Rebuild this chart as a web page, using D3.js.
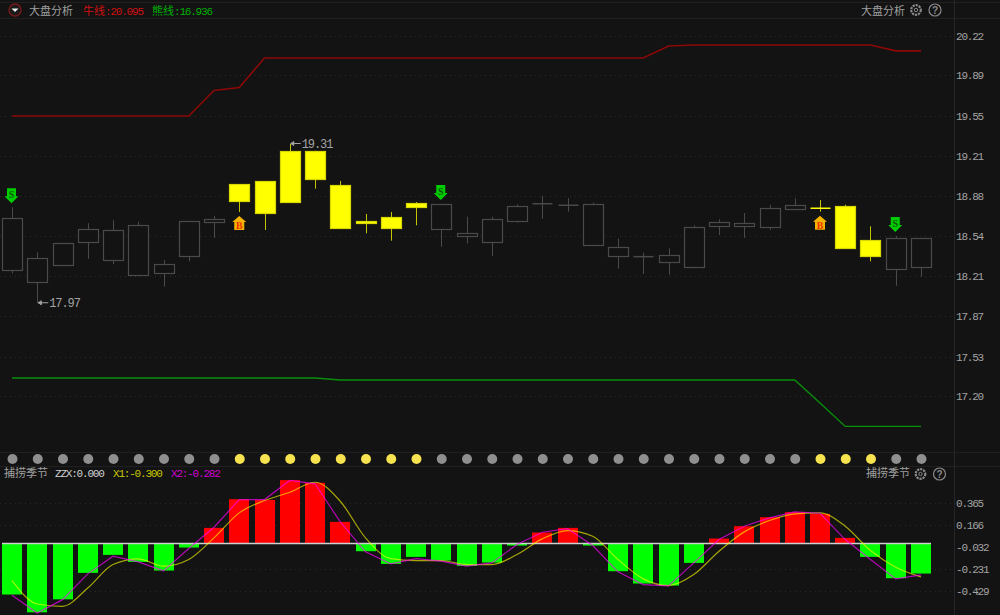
<!DOCTYPE html>
<html><head><meta charset="utf-8">
<script src="https://cdn.jsdelivr.net/npm/d3@7"></script>
<style>html,body{margin:0;padding:0;background:#131313;overflow:hidden}svg{display:block}</style>
</head><body><svg id="c" width="1000" height="615"></svg>
<script>
const highs=[18.783,18.405,18.483,18.649,18.676,18.662,18.341,18.668,18.712,18.978,19.001,19.314,19.258,19.004,18.727,18.744,18.827,18.811,18.704,18.704,18.808,18.878,18.861,18.822,18.520,18.402,18.439,18.632,18.682,18.735,18.805,18.858,18.844,18.805,18.624,18.542,18.523];
const lows=[18.229,17.978,18.293,18.352,18.305,18.209,18.117,18.330,18.528,18.744,18.593,18.830,18.939,18.609,18.565,18.503,18.632,18.452,18.481,18.374,18.654,18.687,18.746,18.467,18.268,18.223,18.218,18.274,18.551,18.528,18.593,18.758,18.746,18.444,18.330,18.125,18.201];
const bodyTops=[18.691,18.358,18.483,18.598,18.593,18.637,18.310,18.668,18.682,18.978,19.001,19.258,19.258,18.970,18.668,18.704,18.819,18.811,18.570,18.682,18.794,18.813,18.800,18.811,18.447,18.369,18.380,18.620,18.662,18.654,18.780,18.802,18.775,18.796,18.509,18.523,18.523];
const bodyBottoms=[18.257,18.156,18.301,18.489,18.341,18.218,18.234,18.374,18.657,18.838,18.733,18.830,19.026,18.612,18.649,18.612,18.783,18.598,18.545,18.489,18.671,18.813,18.800,18.467,18.369,18.369,18.318,18.285,18.629,18.629,18.618,18.769,18.775,18.444,18.374,18.263,18.276];
const yellowDays=[9,10,11,12,13,14,15,16,32,33,34];
const sellDays=[0,17,35];
const buyDays=[9,32];
const bullLine=[19.549,19.549,19.549,19.549,19.549,19.549,19.549,19.549,19.763,19.788,20.035,20.035,20.035,20.035,20.035,20.035,20.035,20.035,20.035,20.035,20.035,20.035,20.035,20.035,20.035,20.035,20.136,20.145,20.145,20.145,20.145,20.145,20.145,20.145,20.145,20.095,20.095];
const bearLine=[17.351,17.351,17.351,17.351,17.351,17.351,17.351,17.351,17.351,17.351,17.351,17.351,17.351,17.334,17.334,17.334,17.334,17.334,17.334,17.334,17.334,17.334,17.334,17.334,17.334,17.334,17.334,17.334,17.334,17.334,17.334,17.334,17.141,16.945,16.945,16.945,16.945];
const zzxBars=[-0.459,-0.619,-0.502,-0.264,-0.102,-0.165,-0.243,-0.036,0.141,0.399,0.393,0.571,0.547,0.195,-0.069,-0.183,-0.120,-0.153,-0.201,-0.171,-0.018,0.099,0.141,-0.018,-0.249,-0.360,-0.378,-0.174,0.045,0.156,0.237,0.282,0.267,0.051,-0.120,-0.312,-0.270];
const x1Line=[-0.333,-0.544,-0.565,-0.400,-0.189,-0.138,-0.204,-0.144,0.051,0.276,0.387,0.462,0.552,0.381,0.051,-0.135,-0.153,-0.153,-0.189,-0.189,-0.099,0.042,0.117,0.066,-0.144,-0.318,-0.378,-0.279,-0.069,0.105,0.207,0.267,0.276,0.156,-0.063,-0.213,-0.300];
const x2Line=[-0.465,-0.625,-0.505,-0.273,-0.114,-0.165,-0.246,-0.045,0.147,0.396,0.396,0.568,0.538,0.195,-0.075,-0.183,-0.135,-0.159,-0.204,-0.174,-0.009,0.102,0.135,-0.018,-0.255,-0.369,-0.381,-0.174,0.036,0.156,0.231,0.285,0.273,0.036,-0.144,-0.318,-0.282];
const priceTicks=[20.22,19.89,19.55,19.21,18.88,18.54,18.21,17.87,17.53,17.20];
const indTicks=[0.365,0.166,-0.032,-0.231,-0.429];
const panelName="大盘分析", indName="捕捞季节";
const bullText="牛线:20.095", bearText="熊线:16.936";
const zzxText="ZZX:0.000", x1Text="X1:-0.300", x2Text="X2:-0.282";
const hiLabel="19.31", loLabel="17.97";

const svg=d3.select("#c");
const mono="'Liberation Mono','DejaVu Sans Mono',monospace";
const cjk="'Noto Sans CJK SC',sans-serif";
const GRAY="#4a4a4a",YEL="#ffff00",TXT="#a3a3a3";
const days=d3.range(highs.length);
const x=d3.scaleLinear().domain([0,36]).range([12,921]);
const y=d3.scaleLinear().domain([20.22,17.20]).range([36,396]);
const yi=d3.scaleLinear().domain([0.365,-0.429]).range([503,591.2]);
const isY=i=>yellowDays.includes(i);
const bw=20;

svg.append("rect").attr("width",1000).attr("height",615).attr("fill","#131313");
[[0,1000,2.5],[0,1000,18.5],[0,1000,452.5],[0,1000,466.5]].forEach(d=>svg.append("line").attr("x1",d[0]).attr("x2",d[1]).attr("y1",d[2]).attr("y2",d[2]).attr("stroke","#202020"));
svg.append("line").attr("x1",954.5).attr("x2",954.5).attr("y1",0).attr("y2",615).attr("stroke","#262626");

const dash="1 4";
svg.append("g").selectAll("line").data(priceTicks).join("line").attr("x1",0).attr("x2",954)
 .attr("y1",d=>Math.round(y(d))+.5).attr("y2",d=>Math.round(y(d))+.5).attr("stroke","#2a2a2a").attr("stroke-dasharray",dash);
svg.append("g").selectAll("line").data(indTicks.filter(d=>d!==-0.032)).join("line").attr("x1",0).attr("x2",954)
 .attr("y1",d=>Math.round(yi(d))+.5).attr("y2",d=>Math.round(yi(d))+.5).attr("stroke","#2a2a2a").attr("stroke-dasharray",dash);

function styleAxis(g){g.select(".domain").remove();g.selectAll("line").remove();
 g.selectAll("text").attr("fill",TXT).attr("font-family",mono).attr("font-size",11).attr("letter-spacing","-1.2px").attr("x",0).attr("text-anchor","start");}
svg.append("g").attr("transform","translate(956,0)")
 .call(d3.axisRight(y).tickValues(priceTicks).tickFormat(d3.format(".2f")).tickSize(0)).call(styleAxis);
svg.append("g").attr("transform","translate(956,0)")
 .call(d3.axisRight(yi).tickValues(indTicks).tickFormat(d=>d3.format(".3f")(d).replace("−","-")).tickSize(0)).call(styleAxis);

const ln=d3.line().x((d,i)=>x(i)).y(d=>y(d));
svg.append("path").attr("d",ln(bullLine)).attr("fill","none").attr("stroke","#8c0808").attr("stroke-width",1.6);
svg.append("path").attr("d",ln(bearLine)).attr("fill","none").attr("stroke","#0a8f0a").attr("stroke-width",1.4);

const cg=svg.append("g");
days.forEach(i=>{
 const cx=Math.round(x(i))+.5, c=isY(i);
 cg.append("line").attr("x1",cx).attr("x2",cx).attr("y1",y(highs[i])).attr("y2",y(lows[i])).attr("stroke",c?"#c4c400":GRAY).attr("stroke-width",1);
 const t=y(bodyTops[i]),b=y(bodyBottoms[i]);
 if(b-t<1){cg.append("line").attr("x1",cx-10).attr("x2",cx+10).attr("y1",t).attr("y2",t).attr("stroke",c?YEL:GRAY).attr("stroke-width",1.5);}
 else cg.append("rect").attr("x",cx-10).attr("width",bw).attr("y",Math.round(t)+.5).attr("height",Math.max(1,Math.round(b-t)))
   .attr("fill",c?YEL:"#131313").attr("stroke",c?"#d8d800":GRAY).attr("stroke-width",1.2);
});

const sg=svg.append("g"),bg=svg.append("g");
sellDays.forEach(i=>{
 const cx=x(i)-.5,t=y(highs[i])-4;
 sg.append("path").attr("d",`M${cx} ${t}l-7-7h2.5v-8h9v8h2.5z`).attr("fill","#00cc00");
 sg.append("text").attr("x",cx).attr("y",t-5).attr("text-anchor","middle").attr("font-family","'Liberation Serif',serif").attr("font-weight","bold").attr("font-size",10).attr("fill","#0a5a0a").text("S");
});
buyDays.forEach(i=>{
 const cx=x(i),t=y(lows[i])+4;
 bg.append("path").attr("d",`M${cx} ${t}l7 6h-2v8h-10v-8h-2z`).attr("fill","#f5b400");
 bg.append("text").attr("x",cx).attr("y",t+13).attr("text-anchor","middle").attr("font-family","'Liberation Serif',serif").attr("font-weight","bold").attr("font-size",10).attr("fill","#f03000").text("B");
});

function note(i,v,txt){
 const px=x(i)+1,py=y(v);
 svg.append("path").attr("d",`M${px} ${py-.5}h10M${px} ${py-.5}l3-2v4z`).attr("stroke",TXT).attr("fill",TXT).attr("stroke-width",1);
 svg.append("text").attr("x",px+11).attr("y",py+3.5).attr("font-family",mono).attr("font-size",12).attr("fill",TXT).attr("letter-spacing","-1.1px").text(txt);
}
note(1,17.978,loLabel); note(11,19.314,hiLabel);

svg.append("g").selectAll("circle").data(days).join("circle").attr("cx",i=>x(i)+.5).attr("cy",459).attr("r",5)
 .attr("fill",i=>isY(i)?"#f6e34f":"#8f8f8f");

const ibg=svg.append("g");
ibg.selectAll("rect").data(zzxBars).join("rect").attr("x",(d,i)=>Math.round(x(i))-10).attr("width",bw)
 .attr("y",d=>d>=0?yi(d):yi(0)).attr("height",d=>Math.abs(yi(d)-yi(0))).attr("fill",d=>d>=0?"#ff0000":"#00ff00");
svg.append("line").attr("x1",2).attr("x2",931).attr("y1",yi(0)).attr("y2",yi(0)).attr("stroke","#d0d0d0").attr("stroke-width",1.4);
svg.append("path").attr("d",d3.line().curve(d3.curveMonotoneX).x((d,i)=>x(i)).y(d=>yi(d))(x1Line)).attr("fill","none").attr("stroke","#ffff00").attr("stroke-opacity",.62).attr("stroke-width",1.2);
svg.append("path").attr("d",d3.line().x((d,i)=>x(i)).y(d=>yi(d))(x2Line)).attr("fill","none").attr("stroke","#ff00ff").attr("stroke-opacity",.68).attr("stroke-width",1.2);

function t(xp,yp,s,fill,fam,size,ls){return svg.append("text").attr("x",xp).attr("y",yp).attr("font-family",fam).attr("font-size",size).attr("fill",fill).attr("letter-spacing",ls||0).text(s);}
svg.append("circle").attr("cx",15).attr("cy",10).attr("r",6).attr("fill","#1a1a1a").attr("stroke","#7a1a1a").attr("stroke-width",1.3);
svg.append("path").attr("d","M11.5 8.5h7l-3.5 3.5z").attr("fill","#eee");
t(29,14.5,panelName,"#a0a0a0",cjk,11);
function mixed(xp,yp,s,fill){const a=s.slice(0,2),b=s.slice(2);t(xp,yp,a,fill,cjk,11);t(xp+22,yp,b,fill,mono,11,"-1.2px");}
mixed(83,14.5,bullText,"#d01010");
mixed(152,14.5,bearText,"#00b000");
t(861,14.5,panelName,"#a0a0a0",cjk,11);
t(4,477,indName,"#a0a0a0",cjk,11);
t(55,477,zzxText,"#d0d0d0",mono,11,"-1.2px");
t(113,477,x1Text,"#c8c800",mono,11,"-1.2px");
t(171,477,x2Text,"#d000d0",mono,11,"-1.2px");
t(866,477,indName,"#a0a0a0",cjk,11);
function icons(cxg,cxq,cy){
 svg.append("circle").attr("cx",cxg).attr("cy",cy).attr("r",4.8).attr("fill","none").attr("stroke","#8a8a8a").attr("stroke-width",2.2).attr("stroke-dasharray","2.2 0.9");
 svg.append("circle").attr("cx",cxg).attr("cy",cy).attr("r",1.7).attr("fill","none").attr("stroke","#8a8a8a");
 svg.append("circle").attr("cx",cxq).attr("cy",cy).attr("r",6).attr("fill","none").attr("stroke","#8a8a8a").attr("stroke-width",1.2);
 svg.append("text").attr("x",cxq).attr("y",cy+3.5).attr("text-anchor","middle").attr("font-family","'Liberation Sans',sans-serif").attr("font-weight","bold").attr("font-size",10).attr("fill","#8a8a8a").text("?");
}
icons(916,935,10); icons(920.5,939.5,474);
</script></body></html>
